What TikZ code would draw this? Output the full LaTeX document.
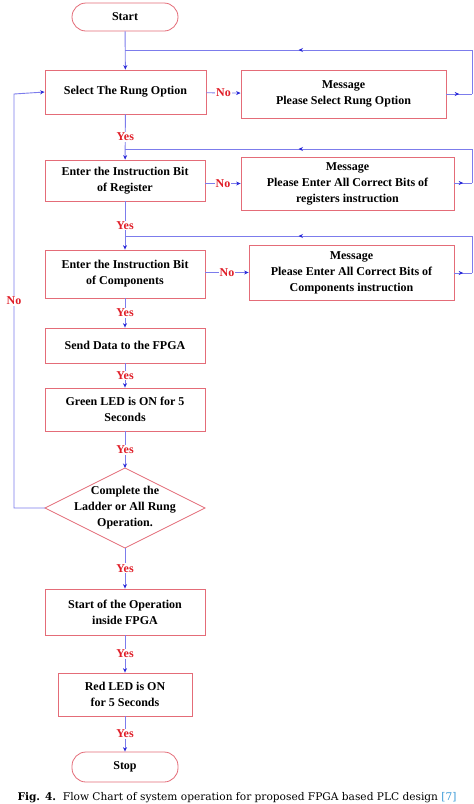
\documentclass[tikz,border=0pt]{standalone}
\usepackage{fontspec}
\setmainfont{Liberation Serif}
\newfontfamily\capfont{DejaVu Serif}
\usetikzlibrary{arrows.meta,decorations.markings}
\definecolor{boxred}{HTML}{E46C78}
\definecolor{lineblue}{HTML}{7C7CEC}
\definecolor{arrblue}{HTML}{2A2AD8}
\definecolor{lblred}{HTML}{E01E28}
\definecolor{citeblue}{HTML}{3A9AD8}
\tikzset{
  box/.style={draw=boxred, line width=0.8pt, fill=white, align=center,
    font=\bfseries\fontsize{12}{16}\selectfont, inner sep=2pt},
  term/.style={box, rounded corners=14pt},
  flow/.style={draw=lineblue, line width=0.9pt},
  tip/.style={-{Stealth[length=4.5pt,width=4pt,color=arrblue]}},
  midarr/.style={postaction={decorate}, decoration={markings,
    mark=at position 0.5 with {\arrow{Stealth[length=4.5pt,width=4pt,color=arrblue]}}}},
  lbl/.style={text=lblred, font=\bfseries\fontsize{12}{14}\selectfont, fill=white, inner sep=1pt},
}
\begin{document}
\begin{tikzpicture}[x=1pt,y=-1pt]
\useasboundingbox[fill=white] (0,0) rectangle (474,804);
% nodes
\node[term, minimum width=106pt, minimum height=28pt] (start) at (125,17) {Start};
\node[box, minimum width=161pt, minimum height=44pt] (sel) at (125.5,92) {Select The Rung Option};
\node[box, minimum width=205pt, minimum height=48pt] (msg1) at (343.5,94) {Message\\Please Select Rung Option};
\node[box, minimum width=160pt, minimum height=41pt] (reg) at (125,180.5) {Enter the Instruction Bit\\of Register};
\node[box, minimum width=213pt, minimum height=53pt] (msg2) at (347.5,183.5) {Message\\Please Enter All Correct Bits of\\registers instruction};
\node[box, minimum width=160pt, minimum height=48pt] (comp) at (125,274) {Enter the Instruction Bit\\of Components};
\node[box, minimum width=205pt, minimum height=55pt] (msg3) at (351.5,272.5) {Message\\Please Enter All Correct Bits of\\Components instruction};
\node[box, minimum width=160pt, minimum height=35pt] (send) at (125,345.5) {Send Data to the FPGA};
\node[box, minimum width=160pt, minimum height=43pt] (green) at (125,409.5) {Green LED is ON for 5\\Seconds};
% diamond
\coordinate (dN) at (125,468);
\coordinate (dE) at (205,508);
\coordinate (dS) at (125,548);
\coordinate (dW) at (45,508);
\draw[draw=boxred, line width=0.8pt, fill=white] (dN) -- (dE) -- (dS) -- (dW) -- cycle;
\node[align=center, font=\bfseries\fontsize{12}{16}\selectfont, inner sep=0pt] (dia) at (125,508) {Complete the\\Ladder or All Rung\\Operation.};
\node[box, minimum width=160pt, minimum height=46pt] (sop) at (125,612) {Start of the Operation\\inside FPGA};
\node[box, minimum width=134pt, minimum height=43pt] (red) at (125,694.5) {Red LED is ON\\for 5 Seconds};
\node[term, minimum width=106pt, minimum height=30pt] (stop) at (125,767) {Stop};
% loop coordinates
\coordinate (r1a) at (472,94);  \coordinate (r1b) at (472,50);  \coordinate (j1) at (125,50);
\coordinate (r2a) at (472,183); \coordinate (r2b) at (472,149); \coordinate (j2) at (125,149);
\coordinate (r3a) at (472,273); \coordinate (r3b) at (472,236); \coordinate (j3) at (125,236);
\coordinate (l1) at (14,508); \coordinate (l2) at (14,94);
% main flow
\draw[flow, tip] (start) -- (sel);
\draw[flow, tip] (sel) -- node[lbl] {Yes} (reg);
\draw[flow, tip] (reg) -- node[lbl] {Yes} (comp);
\draw[flow, tip] (comp) -- node[lbl] {Yes} (send);
\draw[flow, tip] (send) -- node[lbl] {Yes} (green);
\draw[flow, tip] (green) -- node[lbl] {Yes} (dN);
\draw[flow, tip] (dS) -- node[lbl] {Yes} (sop);
\draw[flow, tip] (sop) -- node[lbl] {Yes} (red);
\draw[flow, tip] (red) -- node[lbl] {Yes} (stop);
% No branches
\draw[flow, tip] (sel) -- node[lbl] {No} (msg1);
\draw[flow, tip] (reg.east |- msg2.west) -- node[lbl] {No} (msg2.west);
\draw[flow, tip] (comp.east |- msg3.west) -- node[lbl] {No} (msg3.west);
% return loops
\draw[flow, midarr] (msg1.east |- r1a) -- (r1a);
\draw[flow] (r1a) -- (r1b);
\draw[flow, midarr] (r1b) -- (j1);
\draw[flow, midarr] (msg2.east |- r2a) -- (r2a);
\draw[flow] (r2a) -- (r2b);
\draw[flow, midarr] (r2b) -- (j2);
\draw[flow, midarr] (msg3.east |- r3a) -- (r3a);
\draw[flow] (r3a) -- (r3b);
\draw[flow, midarr] (r3b) -- (j3);
% left No loop
\draw[flow, tip] (dW) -- (l1) -- node[lbl, pos=0.5] {No} (l2) -- (sel.west);
% caption
\node[anchor=base, inner sep=0pt, font=\capfont\fontsize{10.6}{12}\selectfont] (cap) at (237,800.5)
  {\textbf{Fig. 4.}\ \ Flow Chart of system operation for proposed FPGA based PLC design \textcolor{citeblue}{[7]}};
\end{tikzpicture}
\end{document}
